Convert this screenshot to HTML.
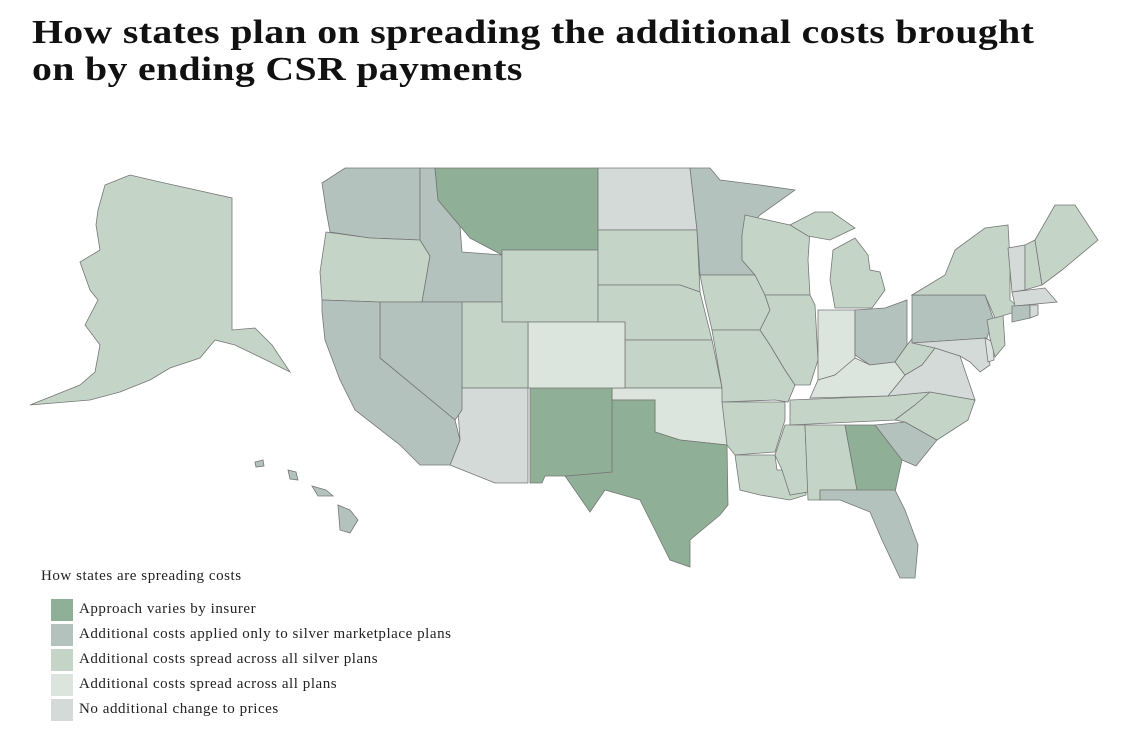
<!DOCTYPE html>
<html><head><meta charset="utf-8">
<style>
body{margin:0;background:#fff;width:1122px;height:737px;overflow:hidden;font-family:"Liberation Serif",serif;}
h1{position:absolute;left:32px;top:14px;margin:0;font-size:34px;line-height:37px;font-weight:bold;color:#111;white-space:nowrap;letter-spacing:0.3px;transform:scaleX(1.17);transform-origin:0 0;}
#map{position:absolute;left:0;top:0;}
#legend{position:absolute;left:41px;top:568px;font-size:15px;letter-spacing:0.55px;color:#222;}
.lt{margin-bottom:12px;}
.li{display:flex;align-items:center;height:25px;margin-left:10px;}
.sw{width:22px;height:22px;margin-right:6px;}
</style></head><body>
<h1>How states plan on spreading the additional costs brought<br>on by ending CSR payments</h1>
<svg id="map" width="1122" height="737"></svg>
<div id="legend">
<div class="lt">How states are spreading costs</div>
</div>
<script>
const categoryLabels=["Approach varies by insurer","Additional costs applied only to silver marketplace plans","Additional costs spread across all silver plans","Additional costs spread across all plans","No additional change to prices"];
const categoryColors=["#8fb096","#b3c2bc","#c4d5c8","#dbe5de","#d3dad8"];
const stateNames=["AK","HI1","HI2","HI3","HI4","WA","OR","ID","MT","WY","ND","SD","NE","KS","OK","TX","NM","CO","UT","AZ","NV","CA","MN","IA","MO","AR","LA","WI","IL","IN","MIU","MIL","OH","KY","TN","MS","AL","GA","FL","SC","NC","VA","WV","PA","MD","DE","NJ","NY","VT","NH","ME","MA","CT","RI"];
const stateCategories=[2,1,1,1,1,1,2,1,0,2,4,2,2,2,3,0,0,3,2,4,1,1,1,2,2,2,2,2,2,3,2,2,1,3,2,2,2,0,1,1,2,4,2,1,4,3,2,2,4,2,2,4,1,4];
const shapes={
AK:"105,185 130,175 160,182 232,198 232,330 255,328 272,345 290,372 270,362 235,345 215,340 200,358 170,368 150,380 120,392 90,400 30,405 80,385 95,372 100,345 85,325 98,300 90,290 80,262 100,250 96,225 98,210",
HI1:"255,462 263,460 264,466 256,467",HI2:"288,470 296,472 298,480 290,479",HI3:"312,486 326,490 333,496 318,496",HI4:"338,505 350,510 358,520 350,533 340,530",
WA:"322,183 345,168 420,168 420,240 370,238 330,232 326,210",
OR:"326,232 370,238 420,240 430,256 422,302 380,302 322,300 320,272",
ID:"420,168 435,168 438,200 460,226 462,252 502,255 502,302 422,302 430,256 420,240",
MT:"435,168 598,168 598,250 502,250 502,255 470,238 460,226 438,200",
WY:"502,250 598,250 598,322 502,322",
ND:"598,168 690,168 697,230 598,230",
SD:"598,230 697,230 700,292 680,285 598,285",
NE:"598,285 680,285 700,292 712,340 625,340 625,322 598,322",
KS:"625,340 712,340 722,388 625,388",
OK:"612,388 722,388 727,445 680,440 655,432 655,400 612,400",
TX:"612,400 655,400 655,432 680,440 727,445 728,505 720,515 690,540 690,567 670,560 655,530 640,500 605,490 590,512 565,476 612,472",
NM:"530,385 612,385 612,472 565,476 545,476 542,483 530,483",
CO:"528,322 625,322 625,388 528,388",
UT:"462,302 502,302 502,322 528,322 528,388 462,388",
AZ:"462,388 528,388 528,483 495,483 450,465 460,440 458,410",
NV:"380,302 462,302 462,410 455,420 380,358",
CA:"322,300 380,302 380,358 455,420 460,440 450,465 420,465 400,445 355,410 340,380 325,340 322,312",
MN:"690,168 710,168 720,180 760,185 795,190 760,215 742,235 742,260 755,275 700,275 697,230",
IA:"700,275 755,275 765,295 770,310 760,330 712,330 705,300",
MO:"712,330 760,330 770,345 785,370 795,385 788,402 775,400 722,402 722,388",
AR:"722,402 785,402 785,420 775,452 735,455 727,445",
LA:"735,455 775,455 777,470 805,470 806,495 790,500 760,495 740,490",
WI:"745,215 790,225 810,230 808,260 810,295 765,295 755,275 742,260 742,235",
IL:"765,295 810,295 815,305 818,360 810,385 795,385 785,370 770,345 760,330 770,310",
IN:"818,310 855,310 855,360 835,375 818,380 818,360",
MIU:"790,225 815,212 832,212 855,228 830,240 808,236",
MIL:"833,250 855,238 868,255 870,270 880,272 885,290 872,308 835,308 830,280",
OH:"855,310 885,308 907,300 907,345 895,362 870,365 855,355",
KY:"818,380 835,375 855,358 870,365 895,362 905,375 888,396 810,398",
TN:"790,400 888,396 930,392 915,405 895,420 790,425",
MS:"785,425 805,425 808,492 790,495 782,470 775,455",
AL:"805,425 845,425 857,490 820,490 820,500 808,500",
GA:"845,425 875,425 902,460 895,492 857,490",
FL:"820,490 895,490 905,510 918,545 915,578 900,578 882,540 870,512 840,500 820,500",
SC:"875,425 905,422 937,440 916,466 902,460",
NC:"895,420 915,405 930,392 975,400 968,420 937,440 905,422",
VA:"888,396 905,375 922,365 935,348 960,356 975,400 930,392",
WV:"895,362 907,345 915,335 935,348 922,365 905,375",
PA:"912,295 985,295 993,318 987,338 912,343",
MD:"912,343 987,338 990,365 980,372 970,362 960,356 935,348",
DE:"985,338 993,342 994,360 988,362",
NJ:"987,320 1003,315 1005,345 995,357 990,338",
NY:"912,295 945,275 955,250 985,228 1008,225 1010,260 1010,300 1022,310 995,318 985,295",
VT:"1008,248 1025,245 1025,290 1012,292",
NH:"1025,245 1035,240 1042,285 1025,290",
ME:"1035,240 1055,205 1075,205 1098,240 1062,270 1042,285",
MA:"1012,292 1045,288 1057,302 1015,306",
CT:"1012,306 1030,305 1030,318 1012,322",
RI:"1030,305 1038,305 1038,315 1030,318"};
const svg=document.getElementById('map');
const NS="http://www.w3.org/2000/svg";
stateNames.forEach((n,i)=>{
  const p=document.createElementNS(NS,'polygon');
  p.setAttribute('points',shapes[n]);
  p.setAttribute('fill',categoryColors[stateCategories[i]]);
  p.setAttribute('stroke','#777');
  p.setAttribute('stroke-width','0.8');
  
  
  svg.appendChild(p);
});
const lg=document.getElementById('legend');
categoryLabels.forEach((l,i)=>{
  const row=document.createElement('div');row.className='li';
  
  
  const s=document.createElement('div');s.className='sw';s.style.background=categoryColors[i];
  
  
  const t=document.createElement('span');t.textContent=l;
  
  
  row.appendChild(s);row.appendChild(t);lg.appendChild(row);
});
</script>
</body></html>
